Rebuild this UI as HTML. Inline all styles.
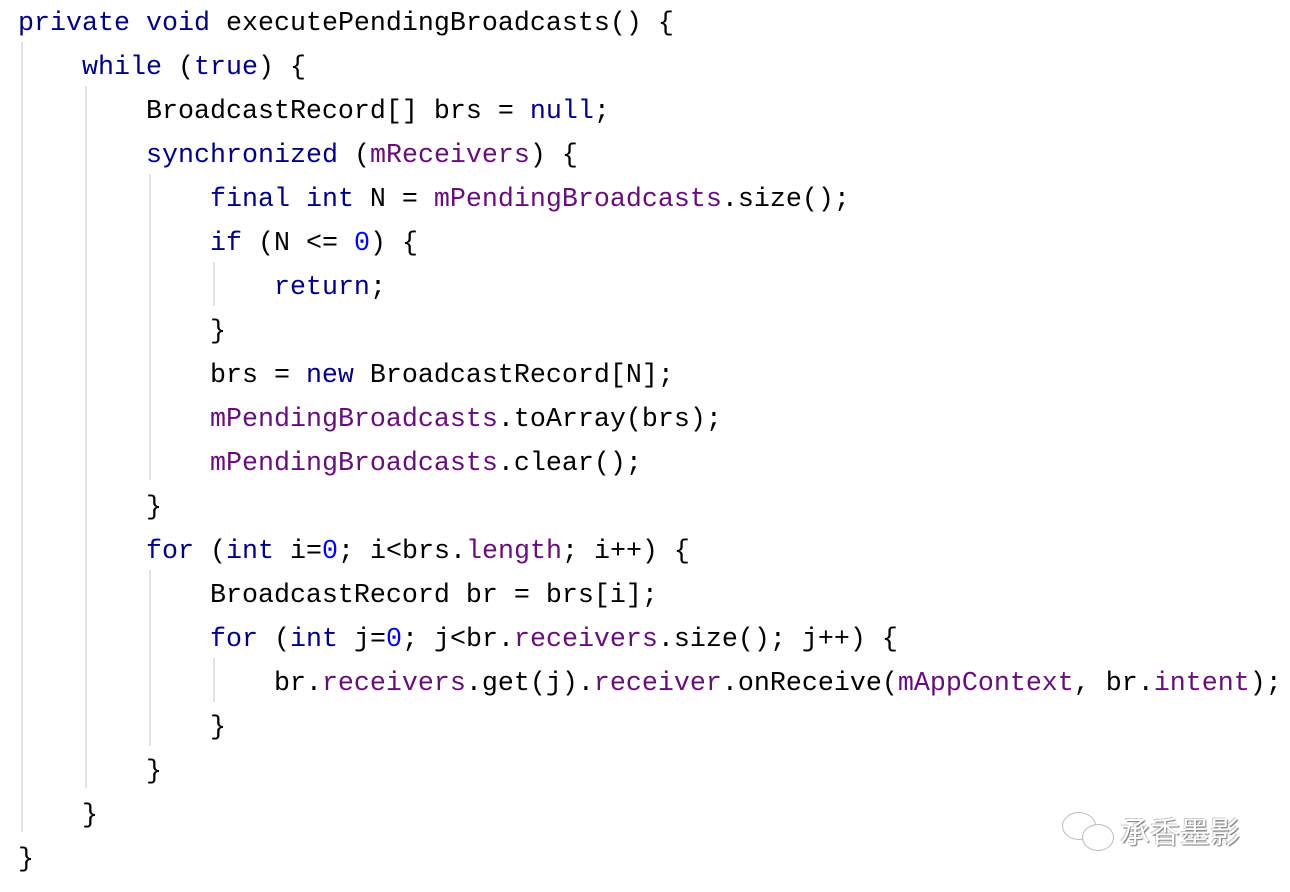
<!DOCTYPE html>
<html><head><meta charset="utf-8"><style>
html,body{margin:0;padding:0;background:#fff;}
body{width:1290px;height:892px;position:relative;overflow:hidden;}
.l{position:absolute;left:18px;height:44px;line-height:44px;white-space:pre;font-family:"Liberation Mono",monospace;font-size:26.67px;color:#000;margin-top:2px;}
.k{color:#000080}.f{color:#660e7a}.n{color:#0000ff}
.g{position:absolute;width:2px;background:#e2e2e2;}
.wm{position:absolute;left:1120px;top:808px;font-family:"Noto Sans CJK SC",sans-serif;font-size:30px;color:#fff;text-shadow:1px 1px 1px #777,-1px -1px 0 #ccc;}
.b{position:absolute;border:1.5px solid #bbb;border-radius:50%;background:#fff;}
</style></head><body>
<div class="g" style="left:21px;top:42px;height:790px"></div>
<div class="g" style="left:85px;top:86px;height:702px"></div>
<div class="g" style="left:149px;top:174px;height:306px"></div>
<div class="g" style="left:149px;top:570px;height:176px"></div>
<div class="g" style="left:213px;top:262px;height:44px"></div>
<div class="g" style="left:213px;top:658px;height:44px"></div>
<div class="l" style="top:0px"><span class="k">private void</span> executePendingBroadcasts() {</div>
<div class="l" style="top:44px">    <span class="k">while</span> (<span class="k">true</span>) {</div>
<div class="l" style="top:88px">        BroadcastRecord[] brs = <span class="k">null</span>;</div>
<div class="l" style="top:132px">        <span class="k">synchronized</span> (<span class="f">mReceivers</span>) {</div>
<div class="l" style="top:176px">            <span class="k">final int</span> N = <span class="f">mPendingBroadcasts</span>.size();</div>
<div class="l" style="top:220px">            <span class="k">if</span> (N &lt;= <span class="n">0</span>) {</div>
<div class="l" style="top:264px">                <span class="k">return</span>;</div>
<div class="l" style="top:308px">            }</div>
<div class="l" style="top:352px">            brs = <span class="k">new</span> BroadcastRecord[N];</div>
<div class="l" style="top:396px">            <span class="f">mPendingBroadcasts</span>.toArray(brs);</div>
<div class="l" style="top:440px">            <span class="f">mPendingBroadcasts</span>.clear();</div>
<div class="l" style="top:484px">        }</div>
<div class="l" style="top:528px">        <span class="k">for</span> (<span class="k">int</span> i=<span class="n">0</span>; i&lt;brs.<span class="f">length</span>; i++) {</div>
<div class="l" style="top:572px">            BroadcastRecord br = brs[i];</div>
<div class="l" style="top:616px">            <span class="k">for</span> (<span class="k">int</span> j=<span class="n">0</span>; j&lt;br.<span class="f">receivers</span>.size(); j++) {</div>
<div class="l" style="top:660px">                br.<span class="f">receivers</span>.get(j).<span class="f">receiver</span>.onReceive(<span class="f">mAppContext</span>, br.<span class="f">intent</span>);</div>
<div class="l" style="top:704px">            }</div>
<div class="l" style="top:748px">        }</div>
<div class="l" style="top:792px">    }</div>
<div class="l" style="top:836px">}</div>
<div class="b" style="left:1062px;top:812px;width:32px;height:26px"></div>
<div class="b" style="left:1082px;top:824px;width:30px;height:25px"></div>
<div class="wm">承香墨影</div>
</body></html>
